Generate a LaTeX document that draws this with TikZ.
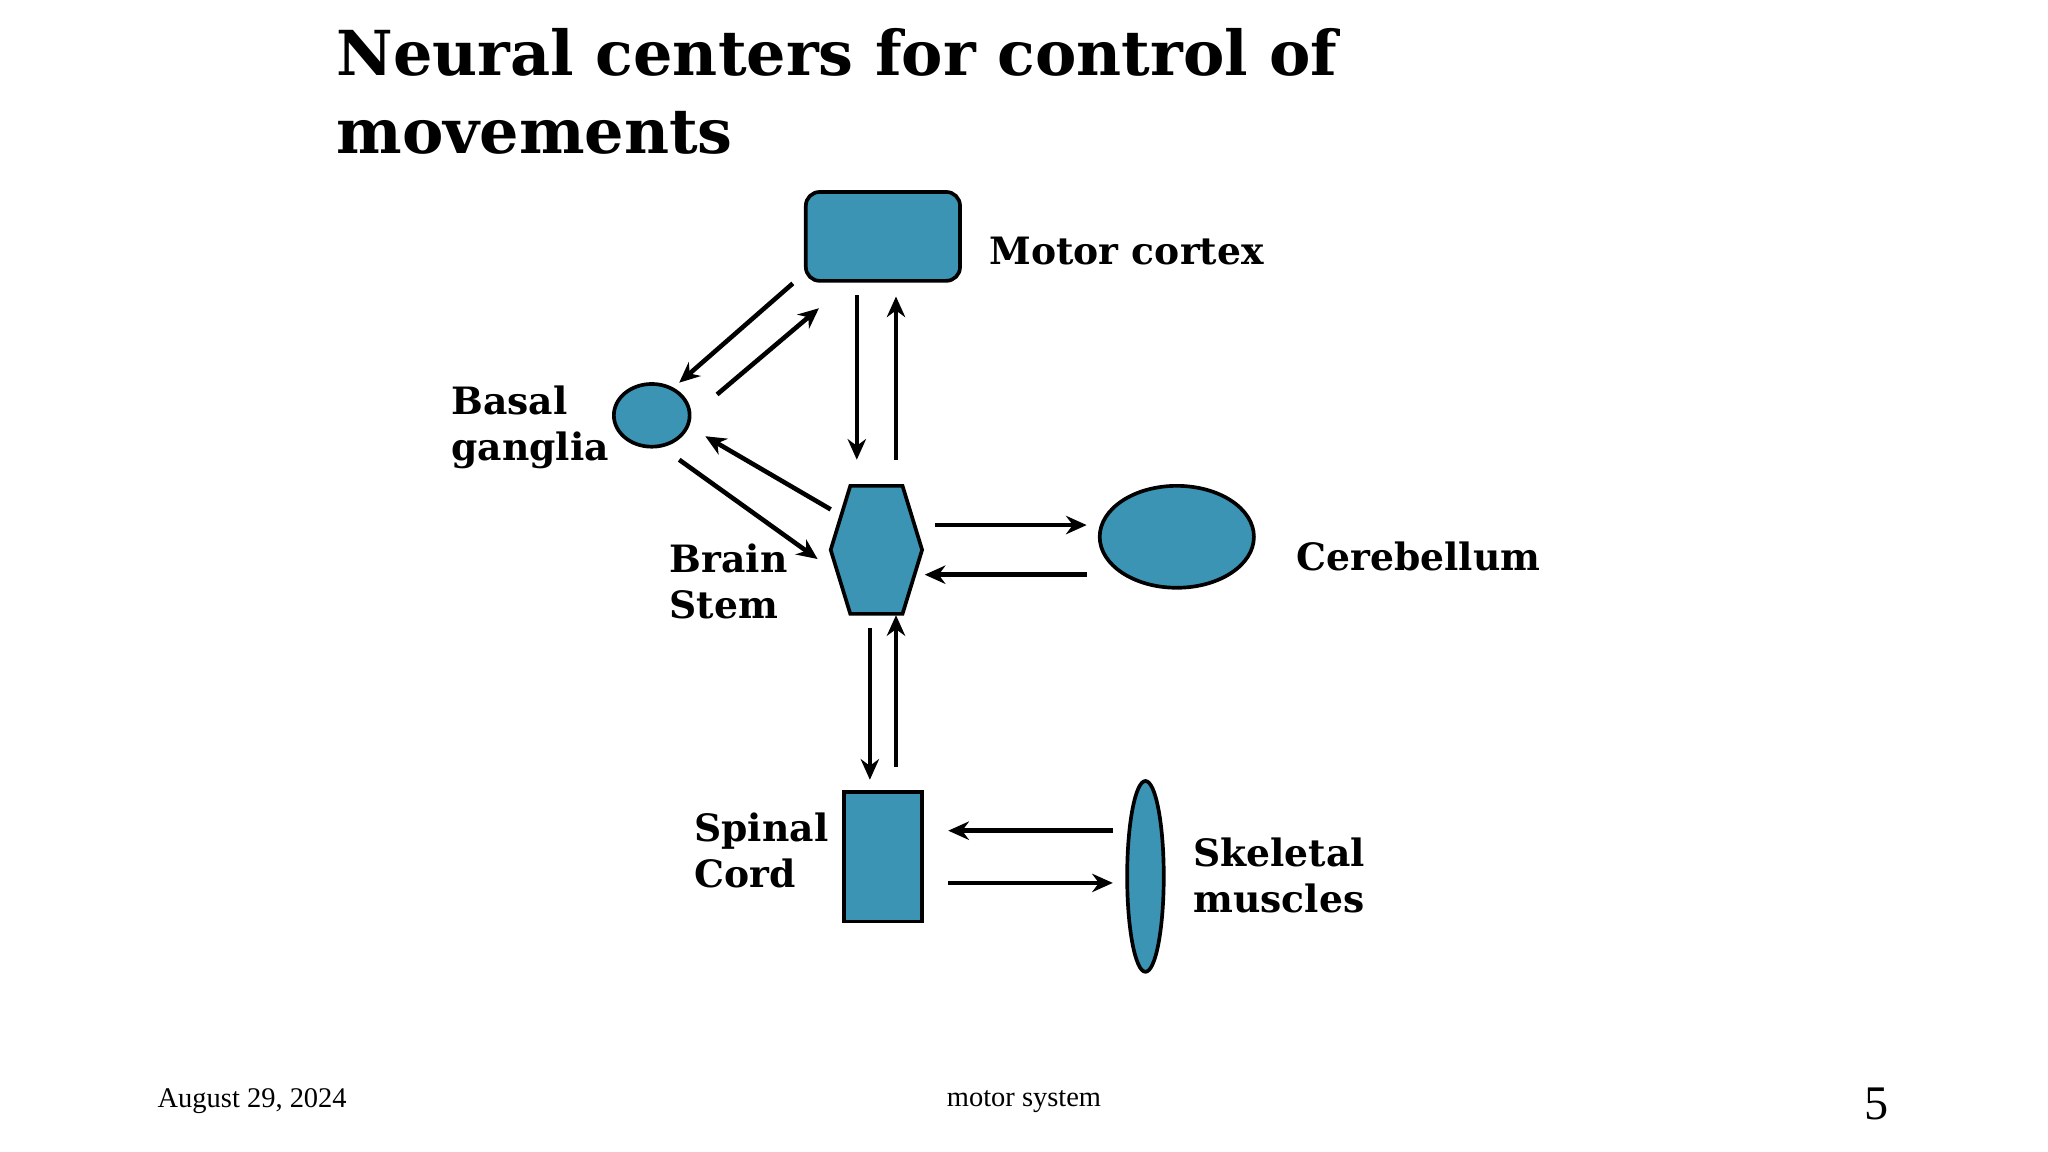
\documentclass[tikz,border=0pt]{standalone}
\usepackage{fontspec}
\setmainfont{Liberation Serif}
\newfontfamily\geo{DejaVu Serif}
\usetikzlibrary{arrows.meta,shapes.geometric}
\definecolor{organ}{HTML}{3B94B4}
\tikzset{
  organ/.style={draw=black, line width=0.8pt, fill=organ},
  link/.style={-{Stealth[length=4.5pt,width=4pt]}, line width=1pt},
  lab/.style={anchor=west, align=left, font=\geo\bfseries\fontsize{8.2}{10}\selectfont, inner sep=0pt}
}
\begin{document}
\begin{tikzpicture}[x=0.01cm, y=-0.01cm]
\useasboundingbox (0,0) rectangle (1568,882);
\node[anchor=west, align=left, inner sep=0pt, font=\geo\bfseries\fontsize{13.5}{17}\selectfont] (title) at (257,70) {Neural centers for control of\\movements};

% organs
\node[organ, rounded corners=3pt, minimum width=1.18cm, minimum height=0.68cm, inner sep=0pt] (mc) at (676,181) {};
\node[organ, ellipse, minimum width=0.58cm, minimum height=0.48cm, inner sep=0pt] (bg) at (499,318) {};
\draw[organ] (651,372) -- (691,372) -- (706,421) -- (691,470) -- (651,470) -- (636,421) -- cycle;
\coordinate (bs) at (671,421);
\node[organ, ellipse, minimum width=1.18cm, minimum height=0.78cm, inner sep=0pt] (cb) at (901,411) {};
\node[organ, minimum width=0.6cm, minimum height=0.99cm, inner sep=0pt] (sc) at (676,656) {};
\node[organ, ellipse, minimum width=0.28cm, minimum height=1.46cm, inner sep=0pt] (sm) at (877,671) {};

% labels
\node[lab] (lmc) at (757,192) {Motor cortex};
\node[lab] (lbg) at (345,327) {Basal\\ganglia};
\node[lab] (lbs) at (512,445) {Brain\\Stem};
\node[lab] (lcb) at (992,426) {Cerebellum};
\node[lab] (lsc) at (531,651) {Spinal\\Cord};
\node[lab] (lsm) at (913,670) {Skeletal\\muscles};

% arrow end points
\coordinate (a1) at (607,217); \coordinate (a2) at (520,293);
\coordinate (b1) at (549,302); \coordinate (b2) at (627,236);
\coordinate (c1) at (656,226); \coordinate (c2) at (656,352);
\coordinate (d1) at (686,352); \coordinate (d2) at (686,227);
\coordinate (e1) at (636,390); \coordinate (e2) at (540,334);
\coordinate (f1) at (520,352); \coordinate (f2) at (626,428);
\coordinate (g1) at (716,402); \coordinate (g2) at (832,402);
\coordinate (h1) at (832,440); \coordinate (h2) at (708,440);
\coordinate (i1) at (666,481); \coordinate (i2) at (666,597);
\coordinate (j1) at (686,587); \coordinate (j2) at (686,471);
\coordinate (k1) at (852,636); \coordinate (k2) at (726,636);
\coordinate (l1) at (726,676); \coordinate (l2) at (852,676);
\foreach \p in {a,b,c,d,e,f,g,h,i,j,k,l} \draw[link] (\p1) -- (\p2);

% footer
\node[anchor=west, inner sep=0pt, font=\fontsize{6.2}{7}\selectfont] (date) at (120,843) {August 29, 2024};
\node[inner sep=0pt, font=\fontsize{6.2}{7}\selectfont] (topic) at (784,843) {motor system};
\node[inner sep=0pt, font=\fontsize{10.5}{12}\selectfont] (page) at (1437,845) {5};
\end{tikzpicture}
\end{document}
